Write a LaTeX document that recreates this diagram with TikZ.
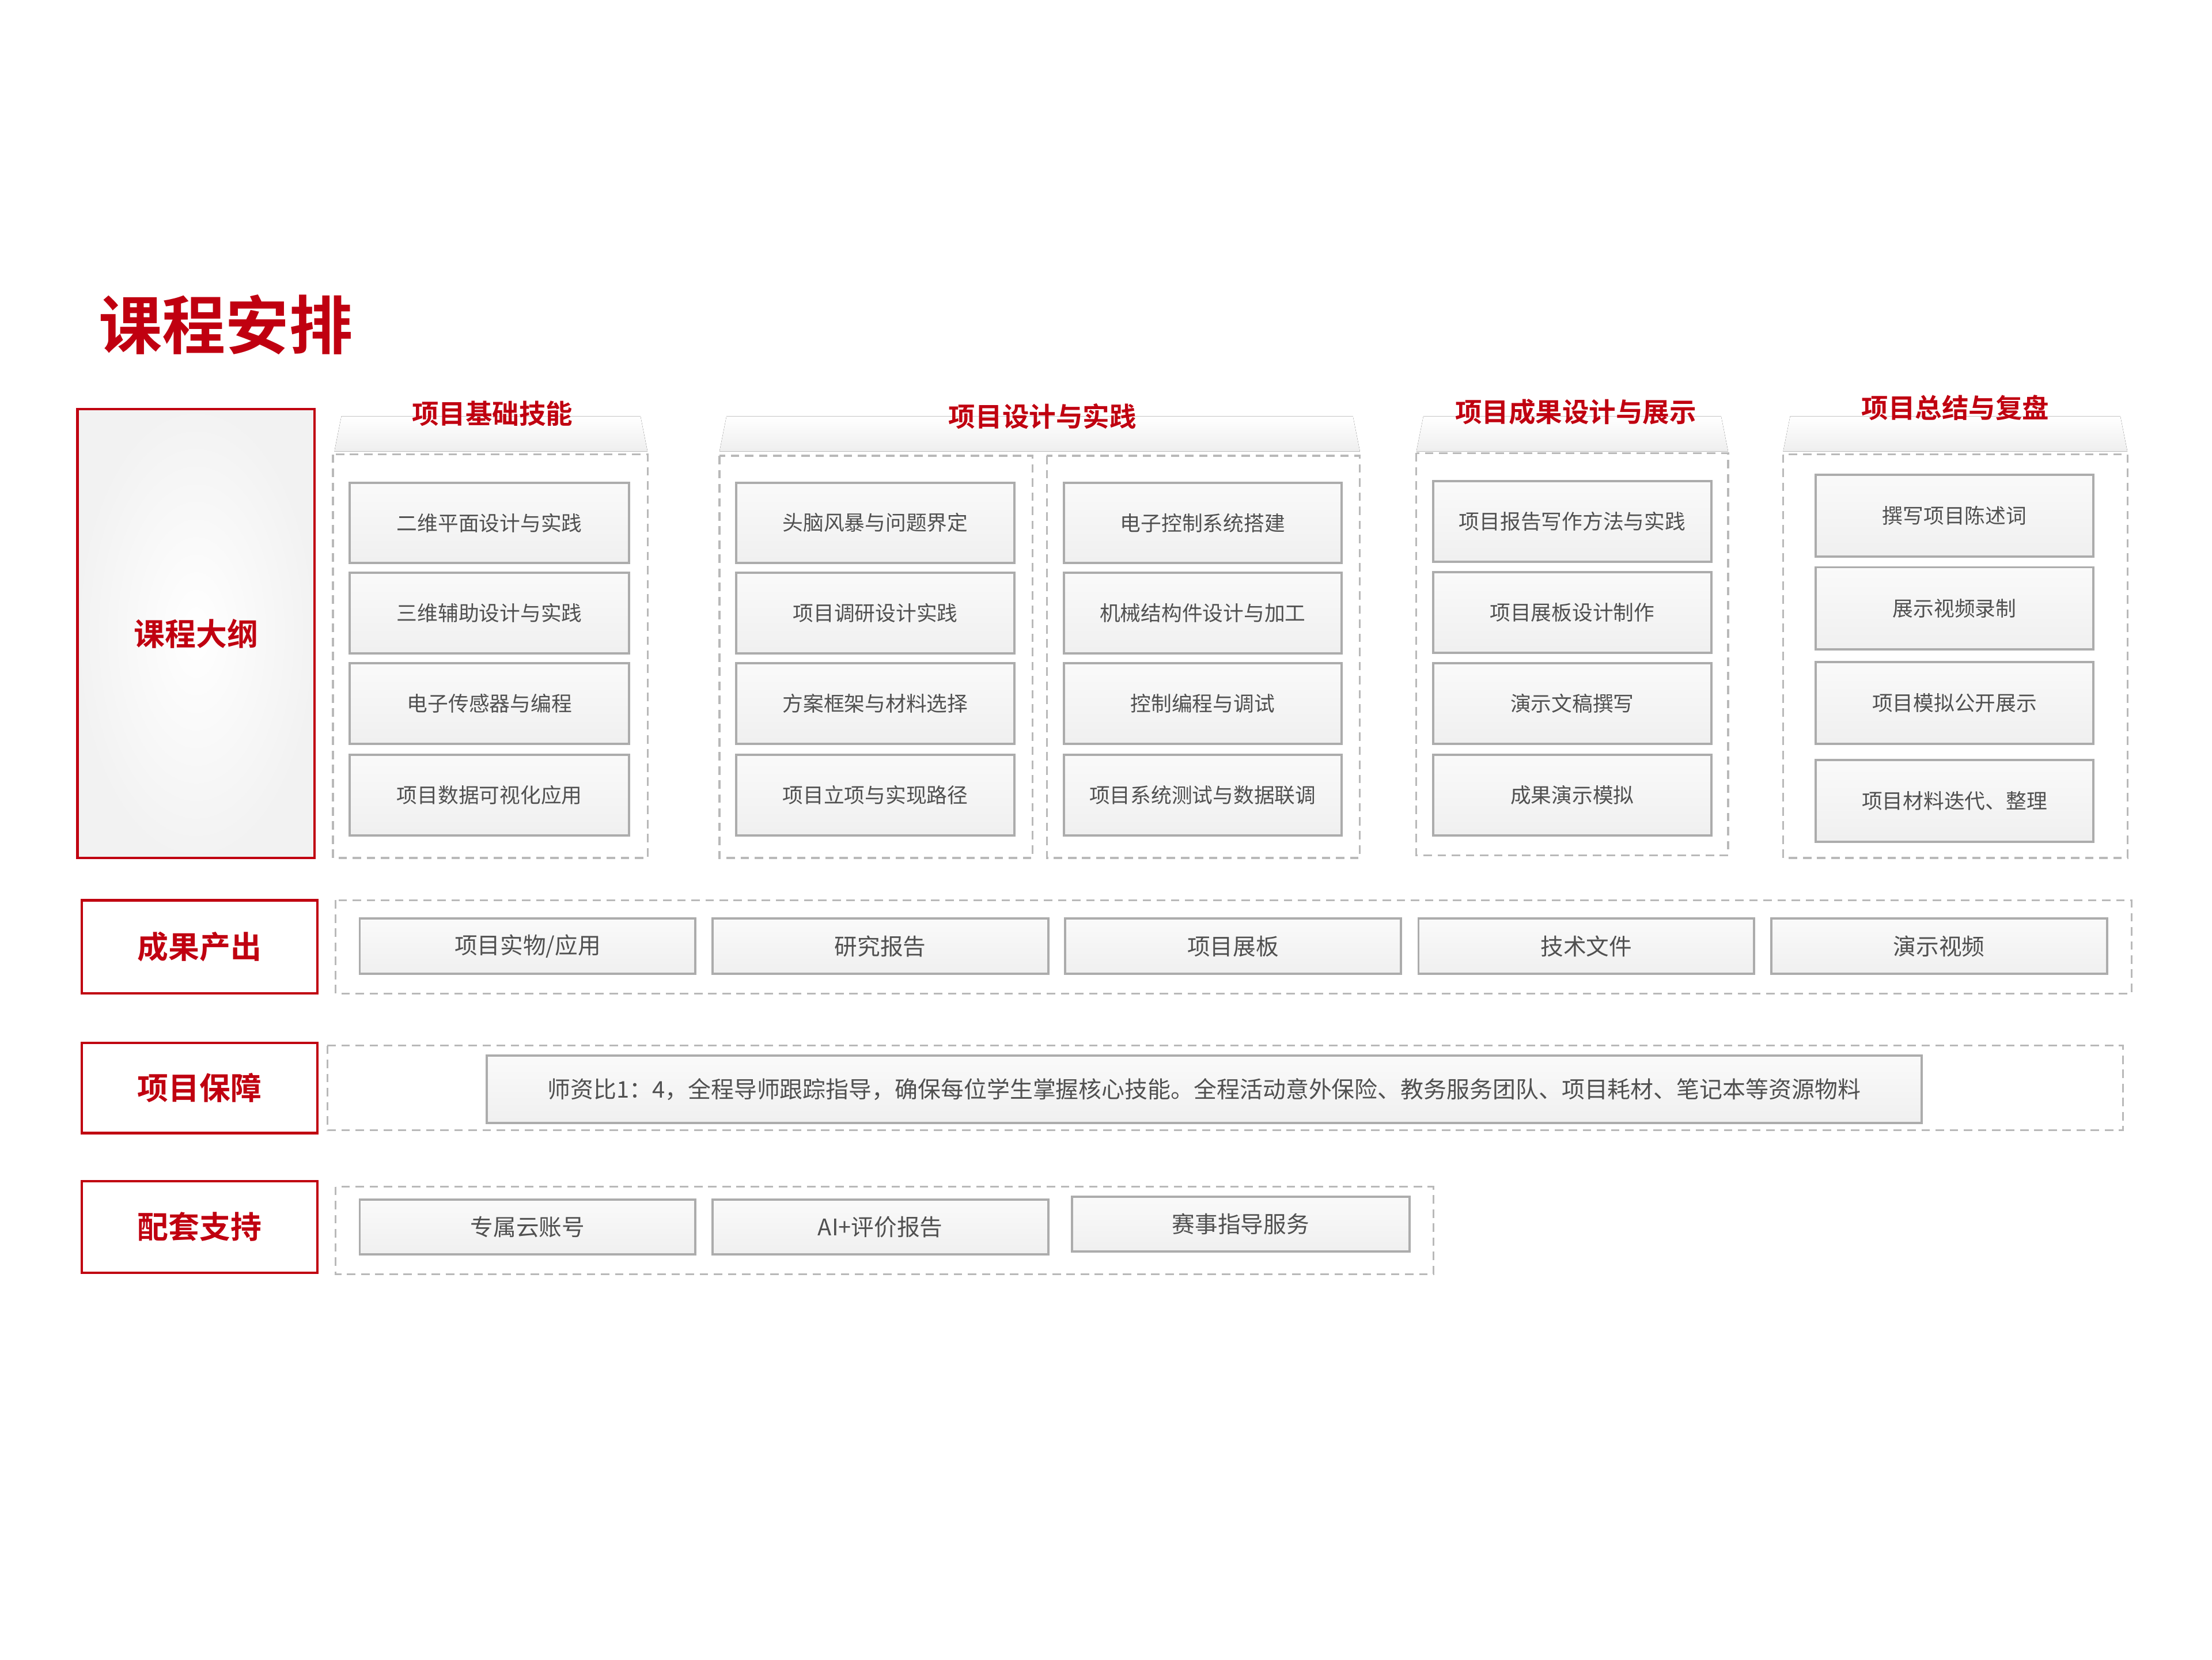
\documentclass[tikz,border=0pt]{standalone}
\usepackage{fontspec}
\setmainfont{Noto Sans CJK SC}
\newfontfamily\cjkb{Noto Sans CJK SC Bold}
\definecolor{myred}{HTML}{C00010}
\definecolor{txtgray}{HTML}{505050}
\begin{document}
\begin{tikzpicture}[x=1pt,y=-1pt,
  inbox/.style={draw=gray!65, line width=1.6pt, top color=gray!4, bottom color=gray!12, text=txtgray, font=\fontsize{14.6}{15}\selectfont, inner sep=0pt},
  dbox/.style={draw=gray!55, line width=1.3pt, dash pattern=on 6pt off 4pt},
  redlab/.style={draw=myred, line width=1.8pt, fill=white, text=myred, font=\cjkb\fontsize{22}{23}\selectfont},
  hdr/.style={text=myred, font=\cjkb\fontsize{19}{20}\selectfont},
  hshade/.style={top color=white, bottom color=gray!13, draw=none}]
\useasboundingbox (0,0) rectangle (1568,1176);
\node[text=myred, font=\cjkb\fontsize{45}{47}\selectfont] (title) at (160,230) {课程安排};
% big box
\node[redlab, inner color=white, outer color=gray!10, minimum width=168pt, minimum height=318pt] (dagang) at (139,449) {课程大纲};
% headers
\foreach \a/\b in {237/459, 510/964, 1004/1225, 1264/1508}{
  \fill[hshade] (\a+5,295) -- (\b-5,295) -- (\b,320) -- (\a,320) -- cycle;
}
\node[hdr] (t1) at (349,293) {项目基础技能};
\node[hdr] (t2) at (739,295) {项目设计与实践};
\node[hdr] (t3) at (1117,292) {项目成果设计与展示};
\node[hdr] (t4) at (1386,289) {项目总结与复盘};
% dashed groups
\draw[dbox] (236,322) rectangle (459,608);
\draw[dbox] (510,323) rectangle (732,608);
\draw[dbox] (742,323) rectangle (964,608);
\draw[dbox] (1004,321) rectangle (1225,606);
\draw[dbox] (1264,322) rectangle (1508,608);
% columns
\foreach \y/\t/\n in {370.5/二维平面设计与实践/a1, 434.5/三维辅助设计与实践/a2, 498.5/电子传感器与编程/a3, 563.5/项目数据可视化应用/a4}
  \node[inbox, minimum width=198pt, minimum height=57pt] (\n) at (347,\y) {\t};
\foreach \y/\t/\n in {370.5/头脑风暴与问题界定/b1, 434.5/项目调研设计实践/b2, 498.5/方案框架与材料选择/b3, 563.5/项目立项与实现路径/b4}
  \node[inbox, minimum width=197pt, minimum height=57pt] (\n) at (620.5,\y) {\t};
\foreach \y/\t/\n in {370.5/电子控制系统搭建/c1, 434.5/机械结构件设计与加工/c2, 498.5/控制编程与调试/c3, 563.5/项目系统测试与数据联调/c4}
  \node[inbox, minimum width=197pt, minimum height=57pt] (\n) at (852.5,\y) {\t};
\foreach \y/\t/\n in {369.5/项目报告写作方法与实践/d1, 434/项目展板设计制作/d2, 498.5/演示文稿撰写/d3, 563.5/成果演示模拟/d4}
  \node[inbox, minimum width=197pt, minimum height=57pt] (\n) at (1114.5,\y) {\t};
\foreach \y/\t/\n in {365.5/撰写项目陈述词/e1, 431/展示视频录制/e2, 498/项目模拟公开展示/e3, 567.5/项目材料迭代、整理/e4}
  \node[inbox, minimum width=197pt, minimum height=58pt] (\n) at (1385.5,\y) {\t};
% row 成果产出
\node[redlab, minimum width=167pt, minimum height=66pt] (r1) at (141.5,671) {成果产出};
\draw[dbox] (238,638) rectangle (1511,704);
\foreach \x/\t/\n in {374/{项目实物/应用}/o1, 624/研究报告/o2, 874/项目展板/o3, 1124.5/技术文件/o4, 1374.5/演示视频/o5}
  \node[inbox, font=\fontsize{16.2}{17}\selectfont, minimum width=238pt, minimum height=39pt] (\n) at (\x,670.5) {\t};
% row 项目保障
\node[redlab, minimum width=167pt, minimum height=64pt] (r2) at (141.5,771) {项目保障};
\draw[dbox] (232,741) rectangle (1505,801);
\node[inbox, font=\fontsize{16.3}{17}\selectfont, minimum width=1017pt, minimum height=48pt] (g1) at (853.5,772) {师资比1：4，全程导师跟踪指导，确保每位学生掌握核心技能。全程活动意外保险、教务服务团队、项目耗材、笔记本等资源物料};
% row 配套支持
\node[redlab, minimum width=167pt, minimum height=65pt] (r3) at (141.5,869.5) {配套支持};
\draw[dbox] (238,841) rectangle (1016,903);
\node[inbox, font=\fontsize{16.2}{17}\selectfont, minimum width=238pt, minimum height=39pt] (s1) at (374,869.5) {专属云账号};
\node[inbox, font=\fontsize{16.2}{17}\selectfont, minimum width=238pt, minimum height=39pt] (s2) at (624,869.5) {AI+评价报告};
\node[inbox, font=\fontsize{16.2}{17}\selectfont, minimum width=239pt, minimum height=39pt] (s3) at (879.5,867.5) {赛事指导服务};
\end{tikzpicture}
\end{document}
